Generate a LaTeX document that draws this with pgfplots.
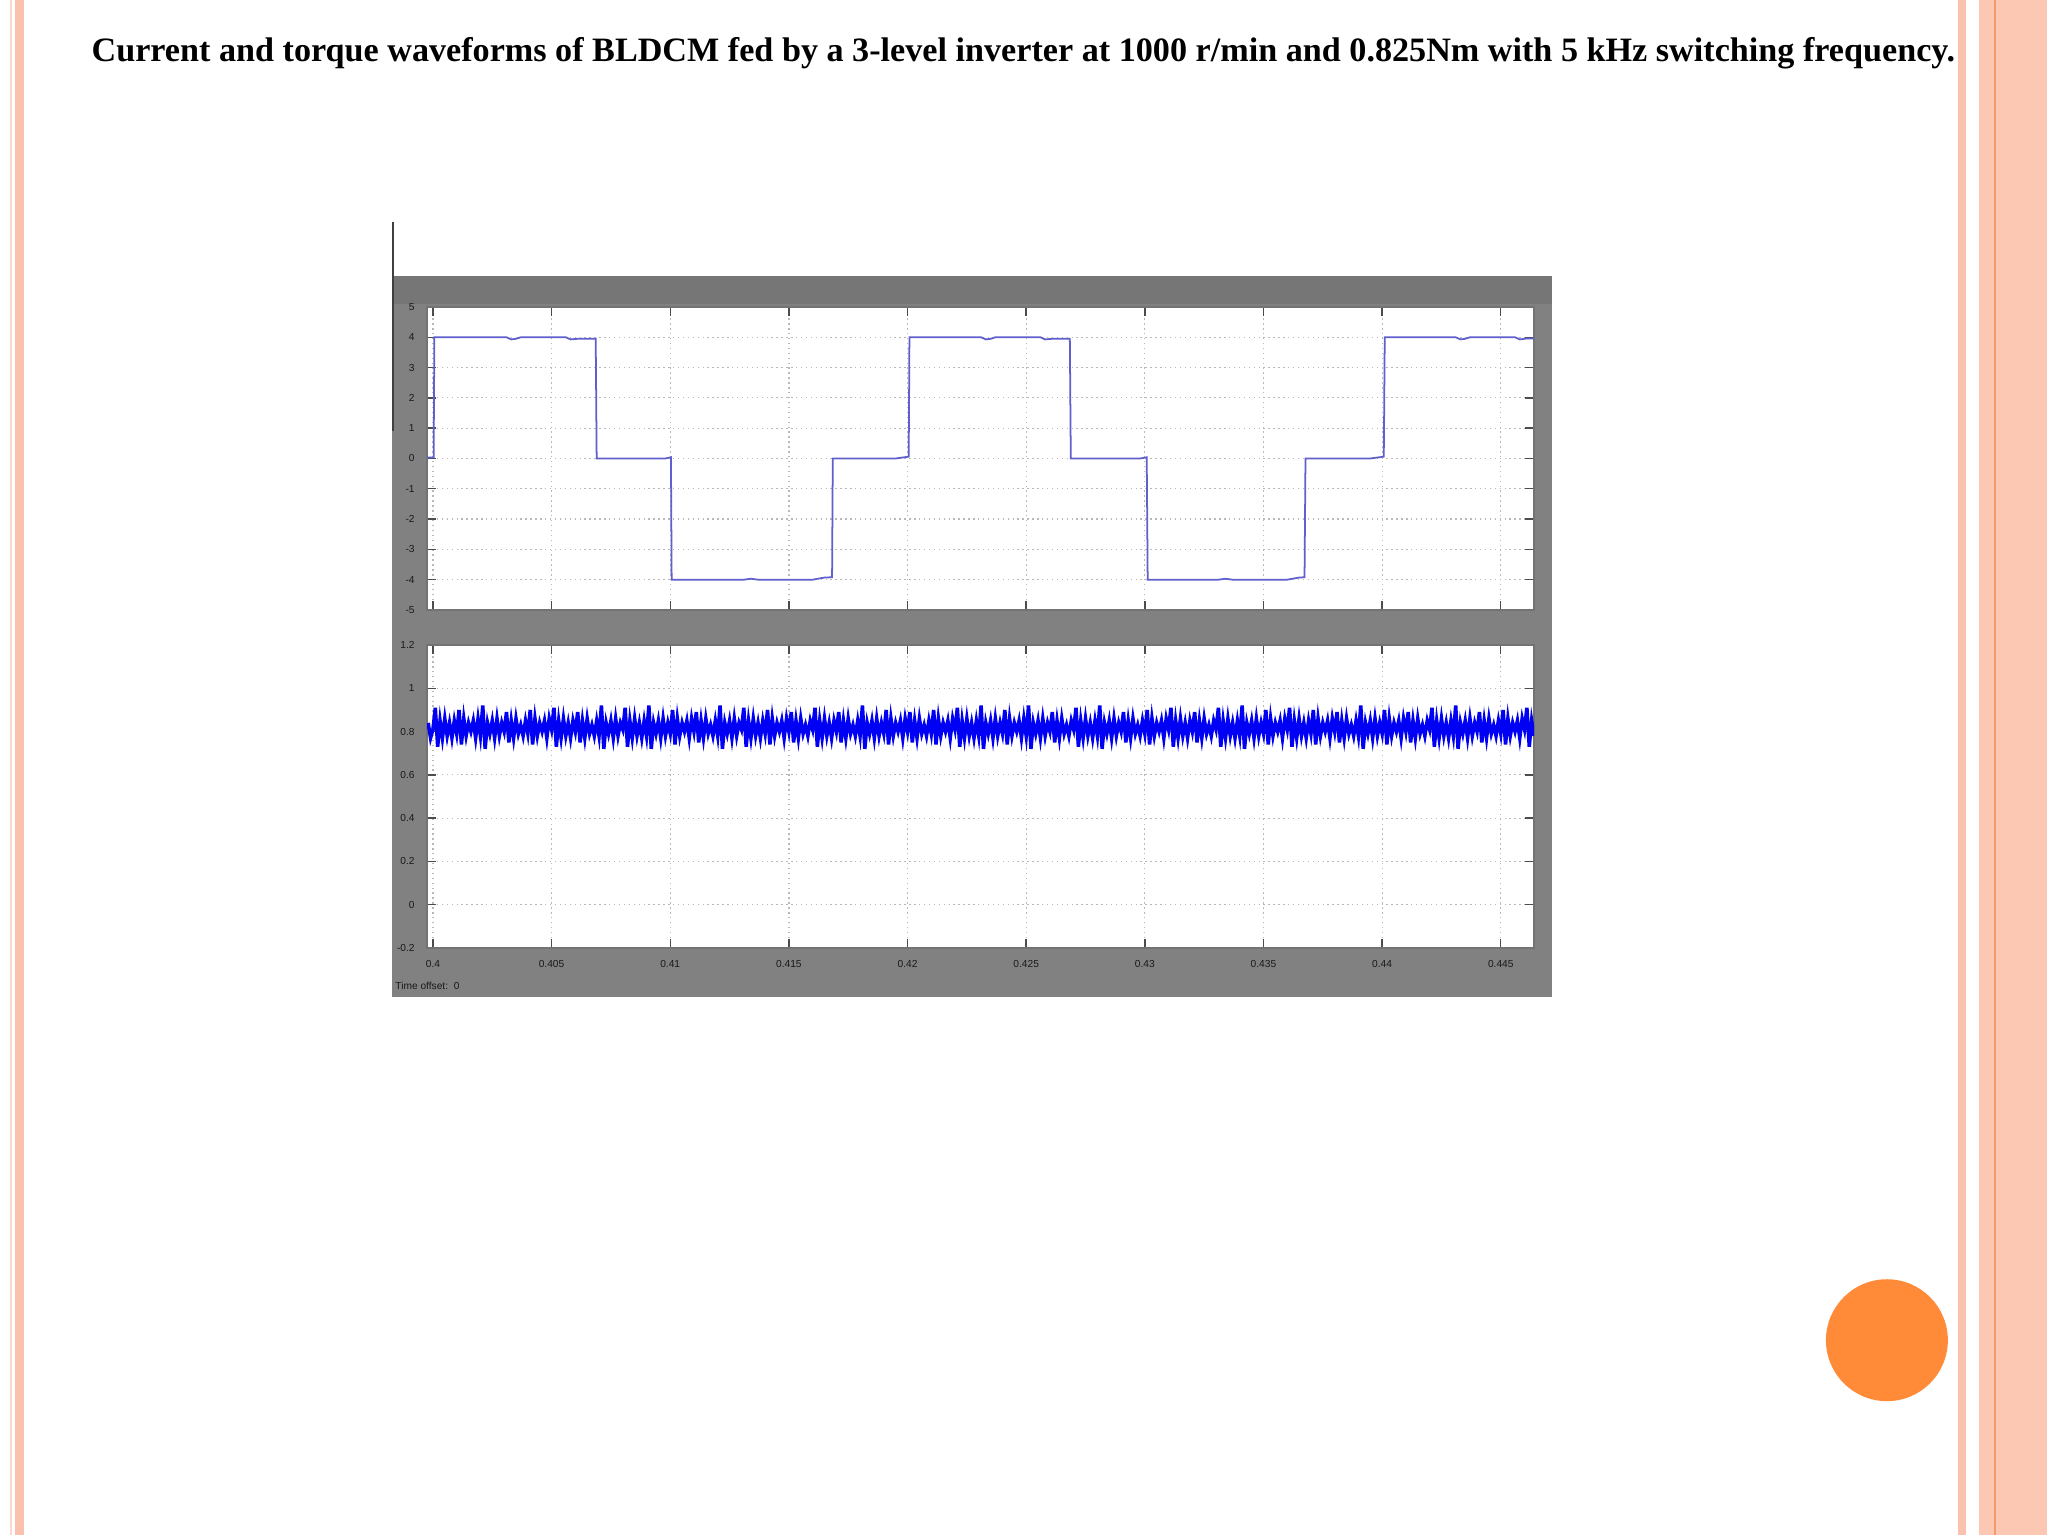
\documentclass[border=0pt]{standalone}
\usepackage{fontspec}
\setmainfont{Liberation Serif}
\setsansfont{Liberation Sans}
\usepackage{pgfplots}
\pgfplotsset{compat=1.18}
\definecolor{framegray}{HTML}{818181}
\definecolor{framedark}{HTML}{767676}
\definecolor{pinkA}{HTML}{FCD6C8}
\definecolor{pinkB}{HTML}{FBC1AF}
\definecolor{pinkC}{HTML}{FCC8B4}
\definecolor{orangeline}{HTML}{F39A68}
\definecolor{dot}{HTML}{FF8A38}
\definecolor{curr}{RGB}{95,95,205}
\definecolor{torq}{RGB}{0,0,245}
\pgfplotsset{scopestyle/.style={
  scale only axis, width=11.07cm, height=3.03cm,
  xmin=0.39975, xmax=0.4464,
  xtick={0.4,0.405,0.41,0.415,0.42,0.425,0.43,0.435,0.44,0.445},
  grid=major, major grid style={densely dotted, black!28, line width=0.35pt},
  tick align=inside, major tick length=0.09cm,
  tick style={black!70, line width=0.4pt},
  axis line style={black!55, line width=0.4pt},
  axis background/.style={fill=white},
  tick label style={font=\sffamily\fontsize{2.9}{3}\selectfont, text=black!90},
  clip=true}}
\begin{document}
\begin{tikzpicture}
\path[use as bounding box, fill=white] (0,0) rectangle (20.48,15.36);
\begin{scope}[x=0.01cm,y=-0.01cm,yshift=15.36cm]
  % slide decorations
  \fill[pinkA] (10,0) rectangle (12.5,1536);
  \fill[pinkB] (15,0) rectangle (24,1536);
  \fill[pinkB] (1959,0) rectangle (1967,1536);
  \fill[pinkC] (1980,0) rectangle (2048,1536);
  \fill[orangeline] (1995,0) rectangle (1997.3,1536);
  \fill[dot] (1888,1341) circle (61);
  % scope window frame
  \fill[framegray] (392,276) rectangle (1553,998);
  \fill[framedark] (392,276) rectangle (1553,304);
  \fill[black!75] (392,222) rectangle (394.5,431);
  \node[anchor=west, font=\sffamily\fontsize{2.9}{3}\selectfont, text=black!90, inner sep=0pt] at (395,986) {Time offset:\ \ 0};
  % title
  \node[anchor=base, font=\bfseries\fontsize{9.72}{11}\selectfont, inner sep=0pt] at (1024,62) {Current and torque waveforms of BLDCM fed by a 3-level inverter at 1000 r/min and 0.825Nm with 5 kHz switching frequency.};
\end{scope}

\begin{axis}[scopestyle, at={(4.27cm,9.26cm)}, anchor=south west,
  ymin=-5, ymax=5, ytick={-5,-4,-3,-2,-1,0,1,2,3,4,5},
  yticklabels={-5,-4,-3,-2,-1,0,1,2,3,4,5}, xticklabels={}]
\addplot[curr, line width=0.5pt] coordinates {
(0.39975,0.03)(0.40003,0.03)(0.40006,4)(0.4031,4)(0.4033,3.93)(0.4035,3.95)(0.4037,4)(0.4056,4)(0.4058,3.93)(0.4061,3.95)(0.40686,3.95)(0.40690,0)(0.4098,0)(0.41003,0.04)(0.41006,-4)(0.4131,-4)(0.4134,-3.97)(0.4137,-4)(0.4160,-4)(0.4165,-3.93)(0.41682,-3.92)(0.41685,0)(0.4195,0)(0.42005,0.06)(0.42008,4)(0.4231,4)(0.4233,3.93)(0.4235,3.95)(0.4237,4)(0.4256,4)(0.4258,3.93)(0.4261,3.95)(0.42684,3.95)(0.42688,0)(0.4298,0)(0.43008,0.04)(0.43012,-4)(0.4331,-4)(0.4334,-3.97)(0.4337,-4)(0.4360,-4)(0.4365,-3.93)(0.43673,-3.92)(0.43677,0)(0.4395,0)(0.44007,0.06)(0.44011,4)(0.4431,4)(0.4433,3.93)(0.4435,3.95)(0.4437,4)(0.4456,4)(0.4458,3.93)(0.4461,3.96)(0.4464,3.96)
};
\end{axis}

\begin{axis}[scopestyle, at={(4.27cm,5.88cm)}, anchor=south west,
  ymin=-0.2, ymax=1.2, ytick={-0.2,0,0.2,0.4,0.6,0.8,1,1.2},
  yticklabels={-0.2,0,0.2,0.4,0.6,0.8,1,1.2},
  xticklabels={0.4,0.405,0.41,0.415,0.42,0.425,0.43,0.435,0.44,0.445}]
\addplot[torq, line width=1pt] coordinates {
(0.3998,0.84)(0.3999,0.77)
(0.4000,0.81)(0.4001,0.91)(0.4002,0.73)(0.4003,0.85)(0.4004,0.77)(0.4005,0.86)(0.4006,0.78)(0.4007,0.84)(0.4008,0.77)(0.4009,0.85)
(0.4010,0.79)(0.4011,0.90)(0.4012,0.74)(0.4013,0.86)(0.4014,0.78)(0.4015,0.84)(0.4016,0.80)(0.4017,0.85)(0.4018,0.77)(0.4019,0.86)
(0.4020,0.78)(0.4021,0.92)(0.4022,0.72)(0.4023,0.84)(0.4024,0.79)(0.4025,0.85)(0.4026,0.77)(0.4027,0.86)(0.4028,0.78)(0.4029,0.84)
(0.4030,0.80)(0.4031,0.89)(0.4032,0.75)(0.4033,0.85)(0.4034,0.77)(0.4035,0.86)(0.4036,0.79)(0.4037,0.83)(0.4038,0.78)(0.4039,0.85)
(0.4040,0.79)(0.4041,0.90)(0.4042,0.74)(0.4043,0.86)(0.4044,0.78)(0.4045,0.84)(0.4046,0.80)(0.4047,0.85)(0.4048,0.77)(0.4049,0.86)
(0.4050,0.81)(0.4051,0.91)(0.4052,0.73)(0.4053,0.85)(0.4054,0.77)(0.4055,0.86)(0.4056,0.78)(0.4057,0.84)(0.4058,0.77)(0.4059,0.85)
(0.4060,0.80)(0.4061,0.89)(0.4062,0.75)(0.4063,0.85)(0.4064,0.77)(0.4065,0.86)(0.4066,0.79)(0.4067,0.83)(0.4068,0.78)(0.4069,0.85)
(0.4070,0.78)(0.4071,0.92)(0.4072,0.72)(0.4073,0.84)(0.4074,0.79)(0.4075,0.85)(0.4076,0.77)(0.4077,0.86)(0.4078,0.78)(0.4079,0.84)
(0.4080,0.81)(0.4081,0.91)(0.4082,0.73)(0.4083,0.85)(0.4084,0.77)(0.4085,0.86)(0.4086,0.78)(0.4087,0.84)(0.4088,0.77)(0.4089,0.85)
(0.4090,0.78)(0.4091,0.92)(0.4092,0.72)(0.4093,0.84)(0.4094,0.79)(0.4095,0.85)(0.4096,0.77)(0.4097,0.86)(0.4098,0.78)(0.4099,0.84)
(0.4100,0.79)(0.4101,0.90)(0.4102,0.74)(0.4103,0.86)(0.4104,0.78)(0.4105,0.84)(0.4106,0.80)(0.4107,0.85)(0.4108,0.77)(0.4109,0.86)
(0.4110,0.80)(0.4111,0.89)(0.4112,0.75)(0.4113,0.85)(0.4114,0.77)(0.4115,0.86)(0.4116,0.79)(0.4117,0.83)(0.4118,0.78)(0.4119,0.85)
(0.4120,0.78)(0.4121,0.92)(0.4122,0.72)(0.4123,0.84)(0.4124,0.79)(0.4125,0.85)(0.4126,0.77)(0.4127,0.86)(0.4128,0.78)(0.4129,0.84)
(0.4130,0.81)(0.4131,0.91)(0.4132,0.73)(0.4133,0.85)(0.4134,0.77)(0.4135,0.86)(0.4136,0.78)(0.4137,0.84)(0.4138,0.77)(0.4139,0.85)
(0.4140,0.79)(0.4141,0.90)(0.4142,0.74)(0.4143,0.86)(0.4144,0.78)(0.4145,0.84)(0.4146,0.80)(0.4147,0.85)(0.4148,0.77)(0.4149,0.86)
(0.4150,0.80)(0.4151,0.89)(0.4152,0.75)(0.4153,0.85)(0.4154,0.77)(0.4155,0.86)(0.4156,0.79)(0.4157,0.83)(0.4158,0.78)(0.4159,0.85)
(0.4160,0.81)(0.4161,0.91)(0.4162,0.73)(0.4163,0.85)(0.4164,0.77)(0.4165,0.86)(0.4166,0.78)(0.4167,0.84)(0.4168,0.77)(0.4169,0.85)
(0.4170,0.80)(0.4171,0.89)(0.4172,0.75)(0.4173,0.85)(0.4174,0.77)(0.4175,0.86)(0.4176,0.79)(0.4177,0.83)(0.4178,0.78)(0.4179,0.85)
(0.4180,0.78)(0.4181,0.92)(0.4182,0.72)(0.4183,0.84)(0.4184,0.79)(0.4185,0.85)(0.4186,0.77)(0.4187,0.86)(0.4188,0.78)(0.4189,0.84)
(0.4190,0.79)(0.4191,0.90)(0.4192,0.74)(0.4193,0.86)(0.4194,0.78)(0.4195,0.84)(0.4196,0.80)(0.4197,0.85)(0.4198,0.77)(0.4199,0.86)
(0.4200,0.80)(0.4201,0.89)(0.4202,0.75)(0.4203,0.85)(0.4204,0.77)(0.4205,0.86)(0.4206,0.79)(0.4207,0.83)(0.4208,0.78)(0.4209,0.85)
(0.4210,0.79)(0.4211,0.90)(0.4212,0.74)(0.4213,0.86)(0.4214,0.78)(0.4215,0.84)(0.4216,0.80)(0.4217,0.85)(0.4218,0.77)(0.4219,0.86)
(0.4220,0.81)(0.4221,0.91)(0.4222,0.73)(0.4223,0.85)(0.4224,0.77)(0.4225,0.86)(0.4226,0.78)(0.4227,0.84)(0.4228,0.77)(0.4229,0.85)
(0.4230,0.78)(0.4231,0.92)(0.4232,0.72)(0.4233,0.84)(0.4234,0.79)(0.4235,0.85)(0.4236,0.77)(0.4237,0.86)(0.4238,0.78)(0.4239,0.84)
(0.4240,0.79)(0.4241,0.90)(0.4242,0.74)(0.4243,0.86)(0.4244,0.78)(0.4245,0.84)(0.4246,0.80)(0.4247,0.85)(0.4248,0.77)(0.4249,0.86)
(0.4250,0.78)(0.4251,0.92)(0.4252,0.72)(0.4253,0.84)(0.4254,0.79)(0.4255,0.85)(0.4256,0.77)(0.4257,0.86)(0.4258,0.78)(0.4259,0.84)
(0.4260,0.80)(0.4261,0.89)(0.4262,0.75)(0.4263,0.85)(0.4264,0.77)(0.4265,0.86)(0.4266,0.79)(0.4267,0.83)(0.4268,0.78)(0.4269,0.85)
(0.4270,0.81)(0.4271,0.91)(0.4272,0.73)(0.4273,0.85)(0.4274,0.77)(0.4275,0.86)(0.4276,0.78)(0.4277,0.84)(0.4278,0.77)(0.4279,0.85)
(0.4280,0.78)(0.4281,0.92)(0.4282,0.72)(0.4283,0.84)(0.4284,0.79)(0.4285,0.85)(0.4286,0.77)(0.4287,0.86)(0.4288,0.78)(0.4289,0.84)
(0.4290,0.80)(0.4291,0.89)(0.4292,0.75)(0.4293,0.85)(0.4294,0.77)(0.4295,0.86)(0.4296,0.79)(0.4297,0.83)(0.4298,0.78)(0.4299,0.85)
(0.4300,0.79)(0.4301,0.90)(0.4302,0.74)(0.4303,0.86)(0.4304,0.78)(0.4305,0.84)(0.4306,0.80)(0.4307,0.85)(0.4308,0.77)(0.4309,0.86)
(0.4310,0.81)(0.4311,0.91)(0.4312,0.73)(0.4313,0.85)(0.4314,0.77)(0.4315,0.86)(0.4316,0.78)(0.4317,0.84)(0.4318,0.77)(0.4319,0.85)
(0.4320,0.80)(0.4321,0.89)(0.4322,0.75)(0.4323,0.85)(0.4324,0.77)(0.4325,0.86)(0.4326,0.79)(0.4327,0.83)(0.4328,0.78)(0.4329,0.85)
(0.4330,0.81)(0.4331,0.91)(0.4332,0.73)(0.4333,0.85)(0.4334,0.77)(0.4335,0.86)(0.4336,0.78)(0.4337,0.84)(0.4338,0.77)(0.4339,0.85)
(0.4340,0.78)(0.4341,0.92)(0.4342,0.72)(0.4343,0.84)(0.4344,0.79)(0.4345,0.85)(0.4346,0.77)(0.4347,0.86)(0.4348,0.78)(0.4349,0.84)
(0.4350,0.79)(0.4351,0.90)(0.4352,0.74)(0.4353,0.86)(0.4354,0.78)(0.4355,0.84)(0.4356,0.80)(0.4357,0.85)(0.4358,0.77)(0.4359,0.86)
(0.4360,0.81)(0.4361,0.91)(0.4362,0.73)(0.4363,0.85)(0.4364,0.77)(0.4365,0.86)(0.4366,0.78)(0.4367,0.84)(0.4368,0.77)(0.4369,0.85)
(0.4370,0.79)(0.4371,0.90)(0.4372,0.74)(0.4373,0.86)(0.4374,0.78)(0.4375,0.84)(0.4376,0.80)(0.4377,0.85)(0.4378,0.77)(0.4379,0.86)
(0.4380,0.80)(0.4381,0.89)(0.4382,0.75)(0.4383,0.85)(0.4384,0.77)(0.4385,0.86)(0.4386,0.79)(0.4387,0.83)(0.4388,0.78)(0.4389,0.85)
(0.4390,0.78)(0.4391,0.92)(0.4392,0.72)(0.4393,0.84)(0.4394,0.79)(0.4395,0.85)(0.4396,0.77)(0.4397,0.86)(0.4398,0.78)(0.4399,0.84)
(0.4400,0.79)(0.4401,0.90)(0.4402,0.74)(0.4403,0.86)(0.4404,0.78)(0.4405,0.84)(0.4406,0.80)(0.4407,0.85)(0.4408,0.77)(0.4409,0.86)
(0.4410,0.80)(0.4411,0.89)(0.4412,0.75)(0.4413,0.85)(0.4414,0.77)(0.4415,0.86)(0.4416,0.79)(0.4417,0.83)(0.4418,0.78)(0.4419,0.85)
(0.4420,0.81)(0.4421,0.91)(0.4422,0.73)(0.4423,0.85)(0.4424,0.77)(0.4425,0.86)(0.4426,0.78)(0.4427,0.84)(0.4428,0.77)(0.4429,0.85)
(0.4430,0.78)(0.4431,0.92)(0.4432,0.72)(0.4433,0.84)(0.4434,0.79)(0.4435,0.85)(0.4436,0.77)(0.4437,0.86)(0.4438,0.78)(0.4439,0.84)
(0.4440,0.80)(0.4441,0.89)(0.4442,0.75)(0.4443,0.85)(0.4444,0.77)(0.4445,0.86)(0.4446,0.79)(0.4447,0.83)(0.4448,0.78)(0.4449,0.85)
(0.4450,0.79)(0.4451,0.90)(0.4452,0.74)(0.4453,0.86)(0.4454,0.78)(0.4455,0.84)(0.4456,0.80)(0.4457,0.85)(0.4458,0.77)(0.4459,0.86)
(0.4460,0.81)(0.4461,0.91)(0.4462,0.73)(0.4463,0.85)(0.4464,0.78)
};
\end{axis}
\end{tikzpicture}
\end{document}
